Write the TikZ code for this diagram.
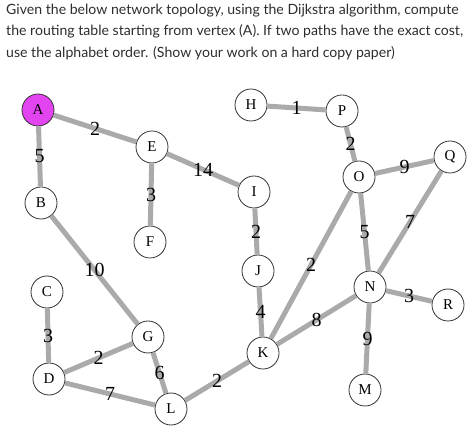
\documentclass[tikz,border=0pt]{standalone}
\usepackage{fontspec}
\setmainfont{Liberation Serif}
\newfontfamily\qfont{Lato}
\usetikzlibrary{positioning}
\definecolor{edgegray}{RGB}{170,170,170}
\definecolor{srcpink}{RGB}{226,68,240}
\definecolor{qtext}{RGB}{45,45,45}

\begin{document}
\begin{tikzpicture}[
  x=1pt, y=-1pt,
  vtx/.style={circle, draw=black!80, fill=white, line width=0.8pt,
              minimum size=32pt, inner sep=0pt, font=\fontsize{15}{15}\selectfont},
  src/.style={vtx, fill=srcpink},
  edge/.style={draw=edgegray, line width=5pt},
  wlbl/.style={font=\fontsize{20}{20}\selectfont, inner sep=0pt, midway},
  ttl/.style={font=\qfont\fontsize{14.1}{21.8}\selectfont, text=qtext,
              align=left, inner sep=0pt},
]
 \useasboundingbox (0,0) rectangle (474,435);

 % Question text
 \node[ttl, anchor=north west] (qtxt) at (6,3.5)
   {Given the below network topology, using the Dijkstra algorithm, compute\\
    the routing table starting from vertex (A). If two paths have the exact cost,\\
    use the alphabet order. (Show your work on a hard copy paper)};

 % Vertices
 \node[src] (A) at (38,110) {A};
 \node[vtx] (B) at (41,203) {B};
 \node[vtx] (C) at (47,292) {C};
 \node[vtx] (D) at (49,379) {D};
 \node[vtx] (E) at (152,147) {E};
 \node[vtx] (F) at (150,242) {F};
 \node[vtx] (G) at (148,337) {G};
 \node[vtx] (H) at (251,105) {H};
 \node[vtx] (I) at (254,192) {I};
 \node[vtx] (J) at (258,271) {J};
 \node[vtx] (K) at (263,353) {K};
 \node[vtx] (L) at (171,409) {L};
 \node[vtx] (M) at (365,390) {M};
 \node[vtx] (N) at (370,287) {N};
 \node[vtx] (O) at (359,177) {O};
 \node[vtx] (P) at (342,111) {P};
 \node[vtx] (Q) at (450,157) {Q};
 \node[vtx] (R) at (448,305) {R};

 % Links with costs
 \foreach \u/\v/\w in {A/E/2, A/B/5, E/F/3, E/I/14, B/G/10, H/P/1, P/O/2,
                      O/Q/9, O/N/5, Q/N/7, I/J/2, O/K/2, J/K/4, K/N/8,
                      N/R/3, N/M/9, C/D/3, D/G/2, G/L/6, D/L/7, L/K/2}
   \draw[edge] (\u) -- (\v) node[wlbl] {\w};
\end{tikzpicture}
\end{document}
